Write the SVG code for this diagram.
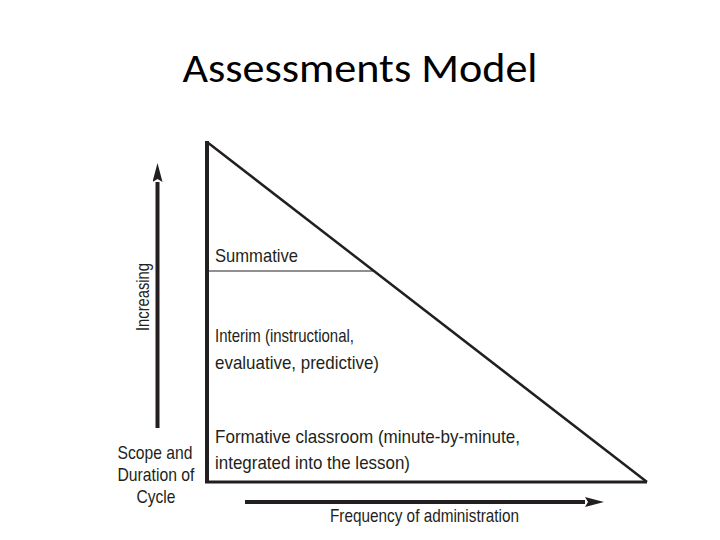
<svg xmlns="http://www.w3.org/2000/svg" width="720" height="540" viewBox="0 0 720 540">
<style>
.t{font-family:"Liberation Sans",Arial,sans-serif;font-size:19px;fill:#231f20}
.c{text-anchor:middle}
.ln{stroke:#231f20;fill:none}
</style>
<defs>
<marker id="ah" viewBox="0 0 19 10" refX="0" refY="5" markerWidth="4.75" markerHeight="2.5" orient="auto" markerUnits="strokeWidth">
<path d="M0,0 L19,5 L0,10 L3,5 z" fill="#231f20"/>
</marker>
</defs>
<rect width="720" height="540" fill="#fff"/>
<text x="360" y="82" text-anchor="middle" font-family="Carlito,'Liberation Sans',sans-serif" font-size="40" fill="#000" textLength="355" lengthAdjust="spacingAndGlyphs">Assessments Model</text>
<g id="triangle">
<line class="ln" x1="207" y1="141" x2="207" y2="483" stroke-width="4"/>
<line class="ln" x1="205" y1="482" x2="647" y2="482" stroke-width="3"/>
<line class="ln" x1="207" y1="142" x2="647" y2="482" stroke-width="2.5"/>
<line class="ln" x1="207" y1="271" x2="374" y2="271" stroke-width="1.2"/>
</g>
<g id="summative"><text class="t" x="215" y="262" textLength="83" lengthAdjust="spacingAndGlyphs">Summative</text></g>
<g id="interim">
<text class="t" x="215" y="342" textLength="139" lengthAdjust="spacingAndGlyphs">Interim (instructional,</text>
<text class="t" x="215" y="369" textLength="164" lengthAdjust="spacingAndGlyphs">evaluative, predictive)</text>
</g>
<g id="formative">
<text class="t" x="215" y="443" textLength="305" lengthAdjust="spacingAndGlyphs">Formative classroom (minute-by-minute,</text>
<text class="t" x="215" y="469" textLength="195" lengthAdjust="spacingAndGlyphs">integrated into the lesson)</text>
</g>
<g id="connectors">
<line class="ln" x1="157.5" y1="428" x2="157.5" y2="182" stroke-width="4" marker-end="url(#ah)"/>
<line class="ln" x1="245" y1="502" x2="585" y2="502" stroke-width="4" marker-end="url(#ah)"/>
</g>
<g id="yaxis-label">
<text class="t c" transform="translate(149,297) rotate(-90)" textLength="68" lengthAdjust="spacingAndGlyphs" font-size="18">Increasing</text>
<text class="t c" x="155" y="459" textLength="75" lengthAdjust="spacingAndGlyphs" font-size="18">Scope and</text>
<text class="t c" x="156" y="481" textLength="77" lengthAdjust="spacingAndGlyphs" font-size="18">Duration of</text>
<text class="t c" x="156" y="503" textLength="39" lengthAdjust="spacingAndGlyphs" font-size="18">Cycle</text>
</g>
<g id="xaxis-label">
<text class="t" x="330" y="522" textLength="189" lengthAdjust="spacingAndGlyphs" font-size="16">Frequency of administration</text>
</g>
</svg>
